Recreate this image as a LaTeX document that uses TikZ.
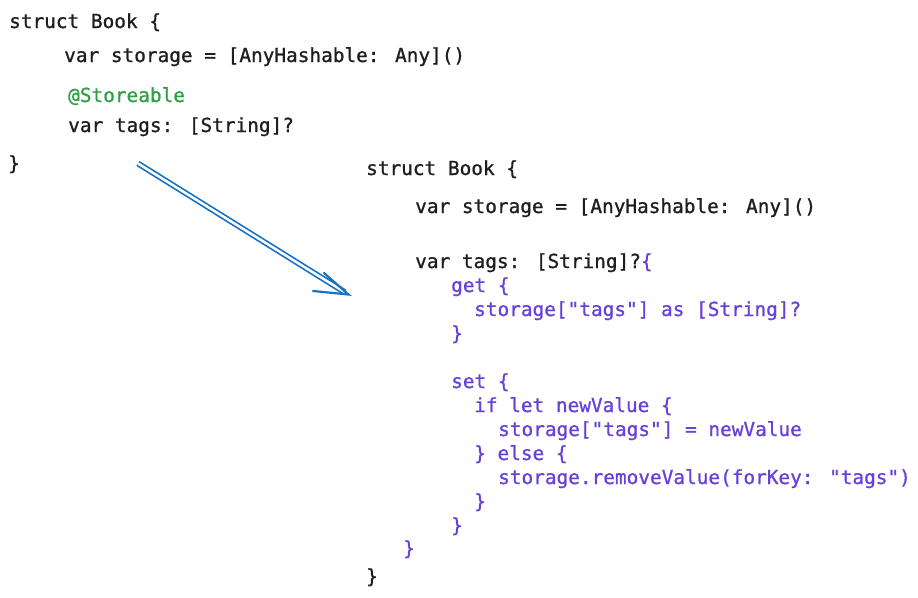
\documentclass[tikz,border=0pt]{standalone}
\usepackage{fontspec}
\newfontfamily\codefont{DejaVu Sans Mono}[FakeBold=1]
\definecolor{ink}{HTML}{1E1E1E}
\definecolor{attrgreen}{HTML}{2F9E44}
\definecolor{accviolet}{HTML}{6741D9}
\definecolor{arrowblue}{HTML}{1971C2}

\begin{document}
\begin{tikzpicture}[x=1pt, y=-1pt,
        code/.style={anchor=base west, inner sep=0pt, text=ink,
            font=\codefont\fontsize{19.4}{24}\selectfont},
        acc/.style={code, text=accviolet}]
            \useasboundingbox (0,0) rectangle (918,597);

            % before
            \node[code] (lstruct) at (9, 28){struct Book \{};
            \node[code] (lstorage) at (64, 62){var storage = [AnyHashable: Any]()};
            \node[code, text=attrgreen] (lattr) at (68, 102){@Storeable};
            \node[code] (ltags) at (68, 132){var tags: [String]?};
            \node[code] (lend) at (8, 170){\}};

            % after
            \node[code] (rstruct) at (366, 175){struct Book \{};
            \node[code] (rstorage) at (415, 213){var storage = [AnyHashable: Any]()};
            \node[code] (rtags) at (415, 268){var tags: [String]?\textcolor{accviolet}{\{}};
            \node[acc] (rget) at (451, 292){get \{};
            \node[acc] (rgetbody) at (474, 316){storage["tags"] as [String]?};
            \node[acc] (rgetend) at (451, 340){\}};
            \node[acc] (rset) at (451, 388){set \{};
            \node[acc] (rif) at (474, 412){if let newValue \{};
            \node[acc] (rassign) at (498, 436){storage["tags"] = newValue};
            \node[acc] (relse) at (474, 460){\} else \{};
            \node[acc] (rremove) at (498, 484){storage.removeValue(forKey: "tags")};
            \node[acc] (relseend) at (474, 508){\}};
            \node[acc] (rsetend) at (451, 532){\}};
            \node[acc] (rtagsend) at (403, 555){\}};
            \node[code] (rend) at (366, 583){\}};

            % arrow
            \coordinate (arrowfrom) at (138, 163.5);
            \coordinate (arrowto) at (345, 292.3);
            \coordinate (tip) at (348.5, 294.5);
            \coordinate (barbleft) at (313, 291);
            \coordinate (barbright) at (324, 273);
            \draw[arrowblue, line width=1.7pt, double=white, double distance=2.5pt] (arrowfrom) -- (arrowto);
            \draw[arrowblue, line width=2.2pt, line cap=round] (barbleft) -- (tip) -- (barbright);
    \end{tikzpicture}
\end{document}
